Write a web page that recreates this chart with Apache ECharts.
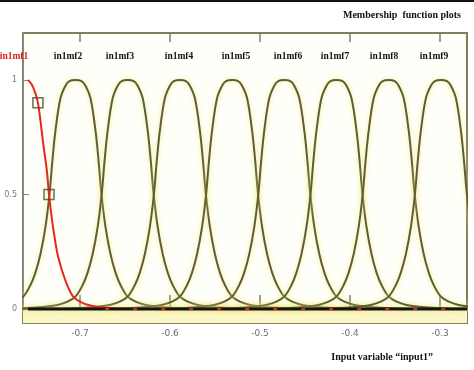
<!DOCTYPE html>
<html><head><meta charset="utf-8">
<script src="https://cdn.jsdelivr.net/npm/echarts@6/dist/echarts.min.js"></script>
<style>html,body{margin:0;padding:0;background:#fff}#c{width:474px;height:370px}</style>
</head><body><div id="c"></div>
<script>
// ---- data ----
const xTicks = [-0.7, -0.6, -0.5, -0.4, -0.3];
const yTicks = [0, 0.5, 1];
const mfNames = ['in1mf1','in1mf2','in1mf3','in1mf4','in1mf5','in1mf6','in1mf7','in1mf8','in1mf9'];
// red in1mf1 curve
const redX = [-0.7578,-0.7522,-0.7467,-0.7411,-0.7367,-0.7344,-0.7300,-0.7244,-0.7167,-0.7078,-0.6967,-0.6811,-0.6667,-0.6444,-0.27];
const redY = [1.0, 0.97, 0.90, 0.73, 0.60, 0.50, 0.36, 0.23, 0.13, 0.055, 0.026, 0.010, 0.004, 0, 0];
// bell membership functions in1mf2..in1mf9: centres and common profile
const bellCenters = [-0.705, -0.647, -0.589, -0.531, -0.473, -0.415, -0.357, -0.299];
const bellOffsets = [0, 0.0067, 0.0111, 0.0167, 0.0222, 0.0256, 0.0289, 0.0333, 0.0389, 0.0444, 0.05, 0.0578, 0.0667, 0.0778, 0.0944, 0.1111, 0.1444, 0.2];
const bellValues  = [1, 0.995, 0.975, 0.92, 0.78, 0.65, 0.5, 0.36, 0.24, 0.16, 0.105, 0.055, 0.032, 0.018, 0.009, 0.005, 0.002, 0];
// marker squares on in1mf1
const markerX = [-0.7467, -0.7344];
const markerY = [0.90, 0.50];
const xRange = [-0.7633, -0.27];
const yRange = [-0.061, 1.205];

// ---- build ----
const olive = '#5e5e36';
const frame = '#80805c';
const glow = 'rgba(240,232,110,0.9)';
function bellData(c){
  const d = [];
  for (let j = bellOffsets.length - 1; j > 0; j--) d.push([c - bellOffsets[j], bellValues[j]]);
  for (let j = 0; j < bellOffsets.length; j++) d.push([c + bellOffsets[j], bellValues[j]]);
  return d;
}
const series = [];
bellCenters.forEach((c,i)=>{
  series.push({type:'line', name:mfNames[i+1], data:bellData(c), symbol:'none', smooth:0.35,
    lineStyle:{color:olive, width:2, shadowColor:glow, shadowBlur:5}, z:4});
});
series.push({type:'line', name:mfNames[0], data:redX.map((x,i)=>[x,redY[i]]), symbol:'none', smooth:0.3,
  lineStyle:{color:'#e8261a', width:2}, z:5});
series.push({type:'line', data:[[redX[0],0],[xRange[1],0]], symbol:'none', silent:true,
  lineStyle:{color:'#141410', width:3}, z:6,
  markArea:{silent:true, itemStyle:{color:'#fbf6c6'}, data:[[{coord:[xRange[0], yRange[0]]},{coord:[xRange[1], -0.006]}]]}});
series.push({type:'line', data:[[-0.672,0],[xRange[1],0]], symbol:'none',
  lineStyle:{color:'#d42a1e', width:2, type:[4,24]}, z:7});
series.push({type:'scatter', data:markerX.map((x,i)=>[x,markerY[i]]), symbol:'rect', symbolSize:10,
  itemStyle:{color:'rgba(0,0,0,0)', borderColor:'#4a4a2c', borderWidth:1.5}, z:8});

const labelPx = [14, 68, 120, 179, 236, 288, 335, 384, 434];
const graphics = [
  {type:'rect', left:0, top:0, shape:{width:474, height:2}, style:{fill:'#111'}},
  {type:'text', x:461, y:15, style:{text:'Membership  function plots', font:'bold 10px "Liberation Serif"', fill:'#111', align:'right', verticalAlign:'middle'}},
  {type:'text', x:433, y:357, style:{text:'Input variable \u201cinput1\u201d', font:'bold 10px "Liberation Serif"', fill:'#111', align:'right', verticalAlign:'middle'}}
];
mfNames.forEach((n,i)=>{
  graphics.push({type:'text', x:labelPx[i], y:57, z:10, style:{text:n, font:'bold 9.5px "Liberation Serif"', fill: i===0 ? '#e0201a' : '#111', align:'center', verticalAlign:'middle'}});
});

const chart = echarts.init(document.getElementById('c'), null, {renderer:'canvas'});
chart.setOption({
  animation:false,
  backgroundColor:'#fff',
  grid:{left:23, right:7, top:33, bottom:47, show:true, backgroundColor:'#fffffa', borderColor:frame, borderWidth:2},
  xAxis:[{type:'value', min:xRange[0], max:xRange[1], position:'bottom',
    axisLine:{show:false}, splitLine:{show:false},
    axisTick:{show:true, inside:true, length:14, customValues:xTicks, lineStyle:{color:frame, width:1.5}},
    axisLabel:{show:true, customValues:xTicks, margin:6, fontSize:9, color:'#6b6b78', fontFamily:'DejaVu Sans',
      formatter:v=>String(Math.round(v*10)/10)}},
    {type:'value', min:xRange[0], max:xRange[1], position:'top',
    axisLine:{show:false}, splitLine:{show:false},
    axisTick:{show:true, inside:true, length:9, customValues:xTicks, lineStyle:{color:frame, width:1.5}},
    axisLabel:{show:false}}],
  yAxis:{type:'value', min:yRange[0], max:yRange[1],
    axisLine:{show:true, lineStyle:{color:'#8a8a8a', width:1}}, splitLine:{show:false},
    axisTick:{show:true, inside:true, length:6, customValues:yTicks, lineStyle:{color:'#8a8a8a'}},
    axisLabel:{show:true, customValues:yTicks, margin:6, fontSize:8, color:'#777', fontFamily:'DejaVu Sans'}},
  series:series,
  graphic:graphics
});
</script></body></html>
